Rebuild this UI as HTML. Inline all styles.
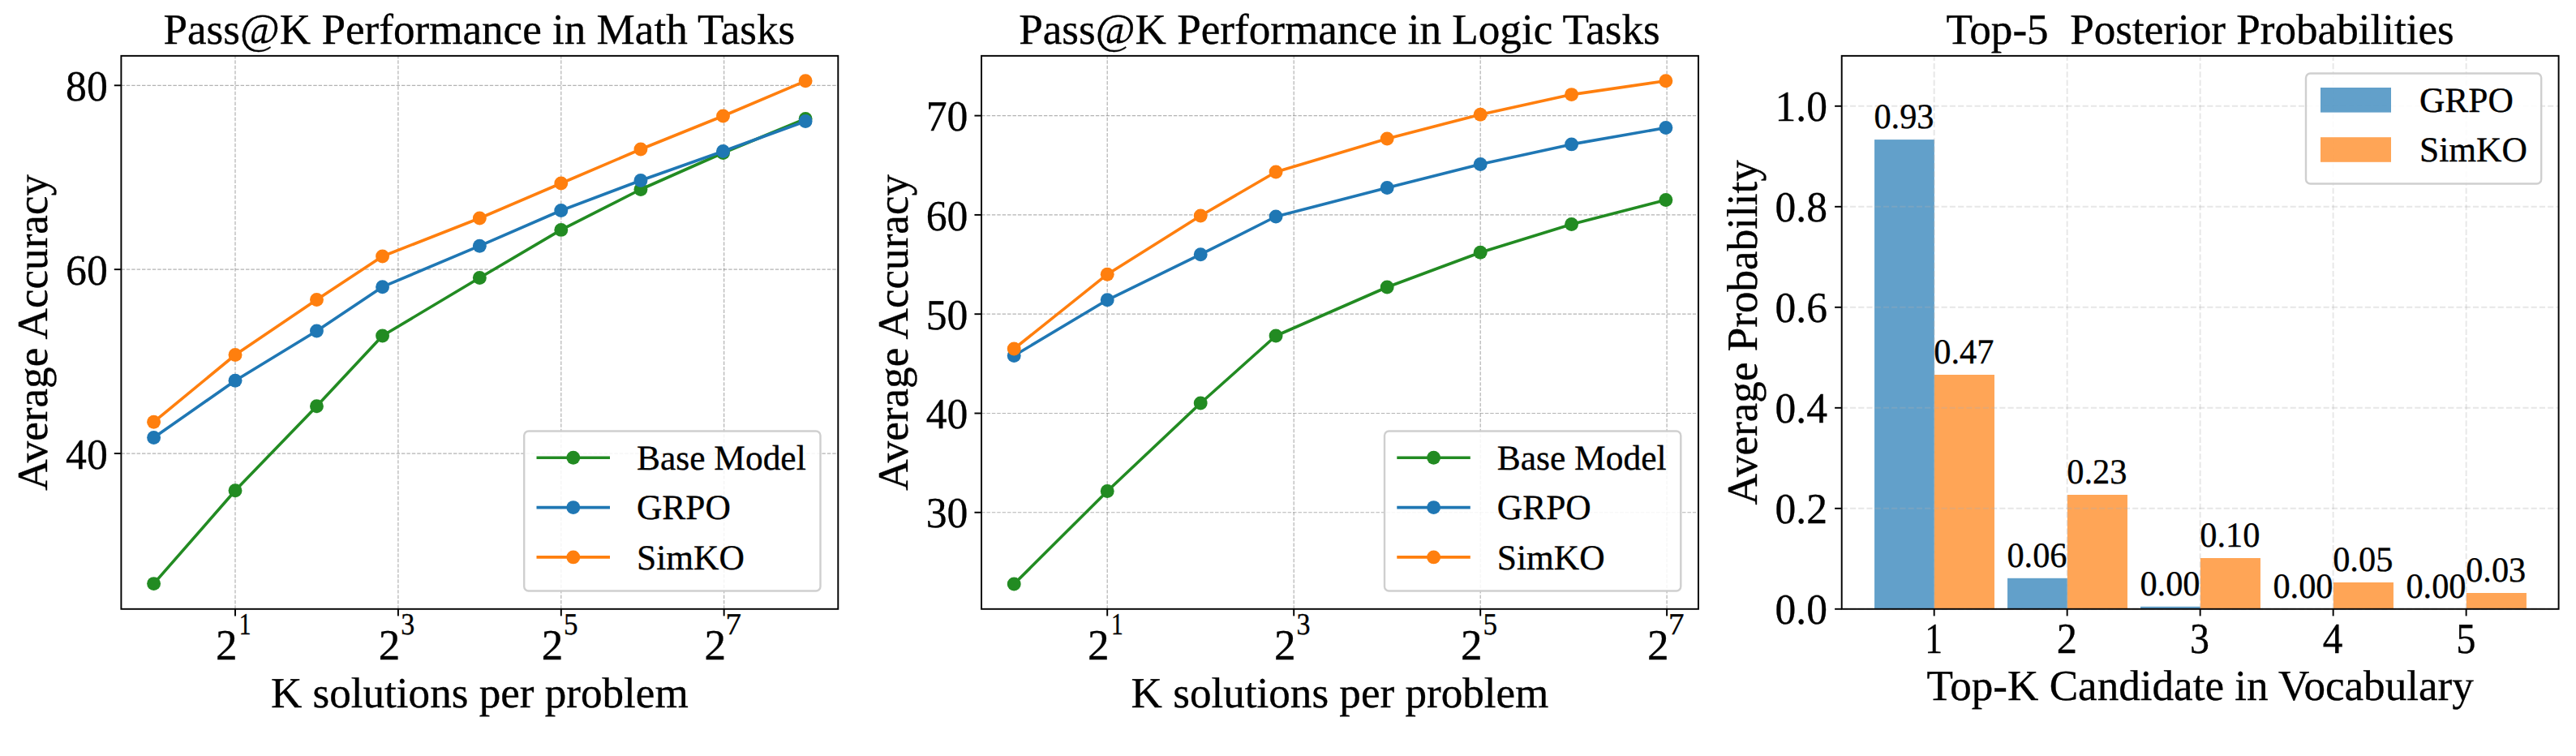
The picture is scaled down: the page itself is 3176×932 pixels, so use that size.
<!DOCTYPE html>
<html lang="en">
<head>
<meta charset="utf-8">
<title>Pass@K Performance and Top-5 Posterior Probabilities</title>
<style>
html,body{margin:0;padding:0;background:#fff;}
body{width:3176px;height:932px;overflow:hidden;}
svg{display:block;}
svg text{stroke:#000;stroke-width:0.35px;stroke-linejoin:round;}
</style>
</head>
<body>
<svg width="3176" height="932" viewBox="0 0 3176 932" font-family='"Liberation Serif", serif' fill="#000" text-rendering="geometricPrecision">
<rect width="3176" height="932" fill="#fff"/>
<g stroke="#808080" stroke-opacity="0.6" stroke-width="1.21" stroke-dasharray="4.47 1.93" fill="none">
<path d="M290.00 750.8 V68.85"/>
<path d="M490.90 750.8 V68.85"/>
<path d="M691.80 750.8 V68.85"/>
<path d="M892.65 750.8 V68.85"/>
<path d="M149.4 105.30 H1033.30"/>
<path d="M149.4 332.15 H1033.30"/>
<path d="M149.4 559.05 H1033.30"/>
</g>
<path d="M189.58 719.60 L290.02 604.80 L390.46 500.80 L471.55 414.00 L591.34 342.50 L691.78 283.40 L789.94 233.50 L891.52 188.50 L993.10 146.50" fill="none" stroke="#228b22" stroke-width="3.62" stroke-linejoin="round" stroke-linecap="butt"/>
<g fill="#228b22"><circle cx="189.58" cy="719.60" r="8.45"/><circle cx="290.02" cy="604.80" r="8.45"/><circle cx="390.46" cy="500.80" r="8.45"/><circle cx="471.55" cy="414.00" r="8.45"/><circle cx="591.34" cy="342.50" r="8.45"/><circle cx="691.78" cy="283.40" r="8.45"/><circle cx="789.94" cy="233.50" r="8.45"/><circle cx="891.52" cy="188.50" r="8.45"/><circle cx="993.10" cy="146.50" r="8.45"/></g>
<path d="M189.58 539.50 L290.02 469.30 L390.46 408.00 L471.55 353.70 L591.34 303.20 L691.78 259.50 L789.94 222.50 L891.52 186.50 L993.10 149.50" fill="none" stroke="#1f77b4" stroke-width="3.62" stroke-linejoin="round" stroke-linecap="butt"/>
<g fill="#1f77b4"><circle cx="189.58" cy="539.50" r="8.45"/><circle cx="290.02" cy="469.30" r="8.45"/><circle cx="390.46" cy="408.00" r="8.45"/><circle cx="471.55" cy="353.70" r="8.45"/><circle cx="591.34" cy="303.20" r="8.45"/><circle cx="691.78" cy="259.50" r="8.45"/><circle cx="789.94" cy="222.50" r="8.45"/><circle cx="891.52" cy="186.50" r="8.45"/><circle cx="993.10" cy="149.50" r="8.45"/></g>
<path d="M189.58 520.20 L290.02 437.50 L390.46 369.50 L471.55 316.00 L591.34 269.00 L691.78 226.00 L789.94 184.00 L891.52 143.00 L993.10 99.80" fill="none" stroke="#ff7f0e" stroke-width="3.62" stroke-linejoin="round" stroke-linecap="butt"/>
<g fill="#ff7f0e"><circle cx="189.58" cy="520.20" r="8.45"/><circle cx="290.02" cy="437.50" r="8.45"/><circle cx="390.46" cy="369.50" r="8.45"/><circle cx="471.55" cy="316.00" r="8.45"/><circle cx="591.34" cy="269.00" r="8.45"/><circle cx="691.78" cy="226.00" r="8.45"/><circle cx="789.94" cy="184.00" r="8.45"/><circle cx="891.52" cy="143.00" r="8.45"/><circle cx="993.10" cy="99.80" r="8.45"/></g>
<rect x="149.4" y="68.85" width="883.9" height="681.95" fill="none" stroke="#000" stroke-width="1.93"/>
<g stroke="#000" stroke-width="1.93">
<path d="M290.00 750.8 v8.6"/>
<path d="M490.90 750.8 v8.6"/>
<path d="M691.80 750.8 v8.6"/>
<path d="M892.65 750.8 v8.6"/>
<path d="M149.4 105.30 h-8.6"/>
<path d="M149.4 332.15 h-8.6"/>
<path d="M149.4 559.05 h-8.6"/>
</g>
<text x="265.90" y="812.9" font-size="53.125" text-anchor="start">2</text>
<text transform="translate(302.10 781.5) scale(0.78 1)" font-size="37.8" text-anchor="middle">1</text>
<text x="466.80" y="812.9" font-size="53.125" text-anchor="start">2</text>
<text transform="translate(502.80 781.5) scale(0.9 1)" font-size="37.8" text-anchor="middle">3</text>
<text x="667.70" y="812.9" font-size="53.125" text-anchor="start">2</text>
<text transform="translate(703.85 781.5) scale(0.93 1)" font-size="37.8" text-anchor="middle">5</text>
<text x="868.55" y="812.9" font-size="53.125" text-anchor="start">2</text>
<text transform="translate(904.35 781.5) scale(1.03 1)" font-size="37.8" text-anchor="middle">7</text>
<text transform="translate(132.80 123.90) scale(0.975 1)" font-size="53.125" text-anchor="end">80</text>
<text transform="translate(132.80 350.75) scale(0.975 1)" font-size="53.125" text-anchor="end">60</text>
<text transform="translate(132.80 577.65) scale(0.975 1)" font-size="53.125" text-anchor="end">40</text>
<text x="590.85" y="54.40" font-size="53.125" text-anchor="middle">Pass@K Performance in Math Tasks</text>
<text x="591.35" y="872.30" font-size="53.125" text-anchor="middle">K solutions per problem</text>
<text transform="translate(57.90 409.82) rotate(-90)" font-size="53.125" text-anchor="middle">Average Accuracy</text>
<rect x="646.20" y="531.5" width="365.3" height="197.0" rx="5.5" fill="#fff" fill-opacity="0.86" stroke="#ccc" stroke-opacity="0.95" stroke-width="2.4"/>
<path d="M661.50 564.3 h90.5" stroke="#228b22" stroke-width="3.62" fill="none"/>
<circle cx="706.80" cy="564.3" r="8.45" fill="#228b22"/>
<text x="785.00" y="579.10" font-size="43.45" text-anchor="start">Base Model</text>
<path d="M661.50 625.6 h90.5" stroke="#1f77b4" stroke-width="3.62" fill="none"/>
<circle cx="706.80" cy="625.6" r="8.45" fill="#1f77b4"/>
<text x="785.00" y="640.40" font-size="43.45" text-anchor="start">GRPO</text>
<path d="M661.50 686.9 h90.5" stroke="#ff7f0e" stroke-width="3.62" fill="none"/>
<circle cx="706.80" cy="686.9" r="8.45" fill="#ff7f0e"/>
<text x="785.00" y="701.70" font-size="43.45" text-anchor="start">SimKO</text>
<g stroke="#808080" stroke-opacity="0.6" stroke-width="1.21" stroke-dasharray="4.47 1.93" fill="none">
<path d="M1365.20 750.8 V68.85"/>
<path d="M1595.20 750.8 V68.85"/>
<path d="M1825.20 750.8 V68.85"/>
<path d="M2055.10 750.8 V68.85"/>
<path d="M1210.05 142.60 H2093.95"/>
<path d="M1210.05 264.90 H2093.95"/>
<path d="M1210.05 387.20 H2093.95"/>
<path d="M1210.05 509.50 H2093.95"/>
<path d="M1210.05 631.75 H2093.95"/>
</g>
<path d="M1250.23 720.00 L1365.22 605.50 L1480.21 497.00 L1573.05 414.00 L1710.19 354.00 L1825.18 311.20 L1937.56 276.50 L2053.86 246.50" fill="none" stroke="#228b22" stroke-width="3.62" stroke-linejoin="round" stroke-linecap="butt"/>
<g fill="#228b22"><circle cx="1250.23" cy="720.00" r="8.45"/><circle cx="1365.22" cy="605.50" r="8.45"/><circle cx="1480.21" cy="497.00" r="8.45"/><circle cx="1573.05" cy="414.00" r="8.45"/><circle cx="1710.19" cy="354.00" r="8.45"/><circle cx="1825.18" cy="311.20" r="8.45"/><circle cx="1937.56" cy="276.50" r="8.45"/><circle cx="2053.86" cy="246.50" r="8.45"/></g>
<path d="M1250.23 438.50 L1365.22 369.80 L1480.21 313.70 L1573.05 267.00 L1710.19 231.50 L1825.18 202.50 L1937.56 177.90 L2053.86 157.50" fill="none" stroke="#1f77b4" stroke-width="3.62" stroke-linejoin="round" stroke-linecap="butt"/>
<g fill="#1f77b4"><circle cx="1250.23" cy="438.50" r="8.45"/><circle cx="1365.22" cy="369.80" r="8.45"/><circle cx="1480.21" cy="313.70" r="8.45"/><circle cx="1573.05" cy="267.00" r="8.45"/><circle cx="1710.19" cy="231.50" r="8.45"/><circle cx="1825.18" cy="202.50" r="8.45"/><circle cx="1937.56" cy="177.90" r="8.45"/><circle cx="2053.86" cy="157.50" r="8.45"/></g>
<path d="M1250.23 430.00 L1365.22 338.20 L1480.21 266.00 L1573.05 212.00 L1710.19 171.00 L1825.18 141.20 L1937.56 116.60 L2053.86 99.75" fill="none" stroke="#ff7f0e" stroke-width="3.62" stroke-linejoin="round" stroke-linecap="butt"/>
<g fill="#ff7f0e"><circle cx="1250.23" cy="430.00" r="8.45"/><circle cx="1365.22" cy="338.20" r="8.45"/><circle cx="1480.21" cy="266.00" r="8.45"/><circle cx="1573.05" cy="212.00" r="8.45"/><circle cx="1710.19" cy="171.00" r="8.45"/><circle cx="1825.18" cy="141.20" r="8.45"/><circle cx="1937.56" cy="116.60" r="8.45"/><circle cx="2053.86" cy="99.75" r="8.45"/></g>
<rect x="1210.05" y="68.85" width="883.9" height="681.95" fill="none" stroke="#000" stroke-width="1.93"/>
<g stroke="#000" stroke-width="1.93">
<path d="M1365.20 750.8 v8.6"/>
<path d="M1595.20 750.8 v8.6"/>
<path d="M1825.20 750.8 v8.6"/>
<path d="M2055.10 750.8 v8.6"/>
<path d="M1210.05 142.60 h-8.6"/>
<path d="M1210.05 264.90 h-8.6"/>
<path d="M1210.05 387.20 h-8.6"/>
<path d="M1210.05 509.50 h-8.6"/>
<path d="M1210.05 631.75 h-8.6"/>
</g>
<text x="1341.10" y="812.9" font-size="53.125" text-anchor="start">2</text>
<text transform="translate(1377.30 781.5) scale(0.78 1)" font-size="37.8" text-anchor="middle">1</text>
<text x="1571.10" y="812.9" font-size="53.125" text-anchor="start">2</text>
<text transform="translate(1607.10 781.5) scale(0.9 1)" font-size="37.8" text-anchor="middle">3</text>
<text x="1801.10" y="812.9" font-size="53.125" text-anchor="start">2</text>
<text transform="translate(1837.25 781.5) scale(0.93 1)" font-size="37.8" text-anchor="middle">5</text>
<text x="2031.00" y="812.9" font-size="53.125" text-anchor="start">2</text>
<text transform="translate(2066.80 781.5) scale(1.03 1)" font-size="37.8" text-anchor="middle">7</text>
<text transform="translate(1193.45 161.20) scale(0.975 1)" font-size="53.125" text-anchor="end">70</text>
<text transform="translate(1193.45 283.50) scale(0.975 1)" font-size="53.125" text-anchor="end">60</text>
<text transform="translate(1193.45 405.80) scale(0.975 1)" font-size="53.125" text-anchor="end">50</text>
<text transform="translate(1193.45 528.10) scale(0.975 1)" font-size="53.125" text-anchor="end">40</text>
<text transform="translate(1193.45 650.35) scale(0.975 1)" font-size="53.125" text-anchor="end">30</text>
<text x="1651.50" y="54.40" font-size="53.125" text-anchor="middle">Pass@K Performance in Logic Tasks</text>
<text x="1652.00" y="872.30" font-size="53.125" text-anchor="middle">K solutions per problem</text>
<text transform="translate(1118.55 409.82) rotate(-90)" font-size="53.125" text-anchor="middle">Average Accuracy</text>
<rect x="1707.00" y="531.5" width="365.3" height="197.0" rx="5.5" fill="#fff" fill-opacity="0.86" stroke="#ccc" stroke-opacity="0.95" stroke-width="2.4"/>
<path d="M1722.30 564.3 h90.5" stroke="#228b22" stroke-width="3.62" fill="none"/>
<circle cx="1767.60" cy="564.3" r="8.45" fill="#228b22"/>
<text x="1845.80" y="579.10" font-size="43.45" text-anchor="start">Base Model</text>
<path d="M1722.30 625.6 h90.5" stroke="#1f77b4" stroke-width="3.62" fill="none"/>
<circle cx="1767.60" cy="625.6" r="8.45" fill="#1f77b4"/>
<text x="1845.80" y="640.40" font-size="43.45" text-anchor="start">GRPO</text>
<path d="M1722.30 686.9 h90.5" stroke="#ff7f0e" stroke-width="3.62" fill="none"/>
<circle cx="1767.60" cy="686.9" r="8.45" fill="#ff7f0e"/>
<text x="1845.80" y="701.70" font-size="43.45" text-anchor="start">SimKO</text>
<rect x="2311.07" y="172.1" width="73.8" height="578.70" fill="#1f77b4" fill-opacity="0.7"/>
<rect x="2384.87" y="462.0" width="74.1" height="288.80" fill="#ff7f0e" fill-opacity="0.7"/>
<rect x="2475.06" y="712.8" width="73.8" height="38.00" fill="#1f77b4" fill-opacity="0.7"/>
<rect x="2548.86" y="610.0" width="74.1" height="140.80" fill="#ff7f0e" fill-opacity="0.7"/>
<rect x="2639.05" y="747.8" width="73.8" height="3.00" fill="#1f77b4" fill-opacity="0.7"/>
<rect x="2712.85" y="688.0" width="74.1" height="62.80" fill="#ff7f0e" fill-opacity="0.7"/>
<rect x="2803.04" y="750.2" width="73.8" height="0.60" fill="#1f77b4" fill-opacity="0.7"/>
<rect x="2876.84" y="718.0" width="74.1" height="32.80" fill="#ff7f0e" fill-opacity="0.7"/>
<rect x="2967.03" y="750.4" width="73.8" height="0.40" fill="#1f77b4" fill-opacity="0.7"/>
<rect x="3040.83" y="731.0" width="74.1" height="19.80" fill="#ff7f0e" fill-opacity="0.7"/>
<g stroke="#b0b0b0" stroke-opacity="0.3" stroke-width="1.93" stroke-dasharray="7.15 3.09" fill="none">
<path d="M2384.67 750.8 V68.85"/>
<path d="M2548.66 750.8 V68.85"/>
<path d="M2712.65 750.8 V68.85"/>
<path d="M2876.64 750.8 V68.85"/>
<path d="M3040.63 750.8 V68.85"/>
<path d="M2270.7 750.80 H3154.60"/>
<path d="M2270.7 626.80 H3154.60"/>
<path d="M2270.7 502.80 H3154.60"/>
<path d="M2270.7 378.80 H3154.60"/>
<path d="M2270.7 254.80 H3154.60"/>
<path d="M2270.7 130.80 H3154.60"/>
</g>
<rect x="2270.7" y="68.85" width="883.9" height="681.95" fill="none" stroke="#000" stroke-width="1.93"/>
<g stroke="#000" stroke-width="1.93">
<path d="M2384.67 750.8 v8.6"/>
<path d="M2548.66 750.8 v8.6"/>
<path d="M2712.65 750.8 v8.6"/>
<path d="M2876.64 750.8 v8.6"/>
<path d="M3040.63 750.8 v8.6"/>
<path d="M2270.7 750.80 h-8.6"/>
<path d="M2270.7 626.80 h-8.6"/>
<path d="M2270.7 502.80 h-8.6"/>
<path d="M2270.7 378.80 h-8.6"/>
<path d="M2270.7 254.80 h-8.6"/>
<path d="M2270.7 130.80 h-8.6"/>
</g>
<text transform="translate(2384.07 804.5) scale(0.82 1)" font-size="53.125" text-anchor="middle">1</text>
<text transform="translate(2548.26 804.5) scale(0.95 1)" font-size="53.125" text-anchor="middle">2</text>
<text transform="translate(2712.05 804.5) scale(0.9 1)" font-size="53.125" text-anchor="middle">3</text>
<text transform="translate(2876.14 804.5) scale(0.93 1)" font-size="53.125" text-anchor="middle">4</text>
<text transform="translate(3040.23 804.5) scale(0.91 1)" font-size="53.125" text-anchor="middle">5</text>
<text transform="translate(2252.90 769.10) scale(0.97 1)" font-size="53.125" text-anchor="end">0.0</text>
<text transform="translate(2252.90 645.10) scale(0.97 1)" font-size="53.125" text-anchor="end">0.2</text>
<text transform="translate(2252.90 521.10) scale(0.97 1)" font-size="53.125" text-anchor="end">0.4</text>
<text transform="translate(2252.90 397.10) scale(0.97 1)" font-size="53.125" text-anchor="end">0.6</text>
<text transform="translate(2252.90 273.10) scale(0.97 1)" font-size="53.125" text-anchor="end">0.8</text>
<text transform="translate(2252.90 149.10) scale(0.97 1)" font-size="53.125" text-anchor="end">1.0</text>
<text transform="translate(2347.47 157.90) scale(0.975 1)" font-size="43.45" text-anchor="middle">0.93</text>
<text transform="translate(2421.27 448.40) scale(0.975 1)" font-size="43.45" text-anchor="middle">0.47</text>
<text transform="translate(2511.46 699.20) scale(0.975 1)" font-size="43.45" text-anchor="middle">0.06</text>
<text transform="translate(2585.26 596.40) scale(0.975 1)" font-size="43.45" text-anchor="middle">0.23</text>
<text transform="translate(2675.45 734.20) scale(0.975 1)" font-size="43.45" text-anchor="middle">0.00</text>
<text transform="translate(2749.25 674.40) scale(0.975 1)" font-size="43.45" text-anchor="middle">0.10</text>
<text transform="translate(2839.44 736.60) scale(0.975 1)" font-size="43.45" text-anchor="middle">0.00</text>
<text transform="translate(2913.24 704.40) scale(0.975 1)" font-size="43.45" text-anchor="middle">0.05</text>
<text transform="translate(3003.43 736.80) scale(0.975 1)" font-size="43.45" text-anchor="middle">0.00</text>
<text transform="translate(3077.23 717.40) scale(0.975 1)" font-size="43.45" text-anchor="middle">0.03</text>
<text x="2712.65" y="54.40" font-size="53.125" text-anchor="middle" xml:space="preserve">Top-5  Posterior Probabilities</text>
<text x="2712.65" y="862.50" font-size="53.125" text-anchor="middle">Top-K Candidate in Vocabulary</text>
<text transform="translate(2166.3 409.82) rotate(-90)" font-size="53.125" text-anchor="middle">Average Probability</text>
<rect x="2843" y="90.5" width="290.2" height="136" rx="5.5" fill="#fff" fill-opacity="0.86" stroke="#ccc" stroke-opacity="0.95" stroke-width="2.4"/>
<rect x="2861" y="108.0" width="87" height="30.6" fill="#1f77b4" fill-opacity="0.7"/>
<text x="2983.00" y="137.80" font-size="43.45" text-anchor="start">GRPO</text>
<rect x="2861" y="169.2" width="87" height="30.6" fill="#ff7f0e" fill-opacity="0.7"/>
<text x="2983.00" y="199.00" font-size="43.45" text-anchor="start">SimKO</text>
</svg>
</body>
</html>
